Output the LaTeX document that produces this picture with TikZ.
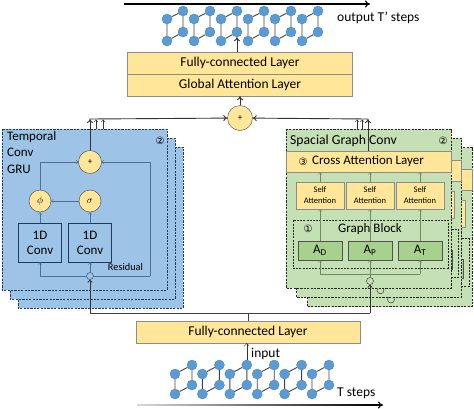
\documentclass[tikz,border=0pt]{standalone}
\usepackage{fontspec}
\setmainfont{Carlito}
\newfontfamily\circfont{DejaVu Sans}
\usetikzlibrary{positioning,arrows.meta}

\definecolor{goldfill}{HTML}{FFE699}
\definecolor{goldline}{HTML}{8C8C8C}
\definecolor{tcfill}{HTML}{9DC3E6}
\definecolor{tcline}{HTML}{203864}
\definecolor{tcwire}{HTML}{4E6F96}
\definecolor{sgfill}{HTML}{C5E0B4}
\definecolor{sgbox}{HTML}{A9D18E}
\definecolor{sgline}{HTML}{262626}
\definecolor{sgwire}{HTML}{6F8A5E}
\definecolor{gnode}{HTML}{5B9BD5}

\tikzset{
  yellowbar/.style={draw=goldline, fill=goldfill, minimum width=225pt, minimum height=22pt,
    inner sep=0pt, font=\fontsize{13.5}{16}\selectfont},
  panel/.style={dash pattern=on 2.2pt off 1.2pt, line width=1pt},
  opcircle/.style={circle, draw=black!75, fill=goldfill, inner sep=0pt},
  convbox/.style={draw=tcline, minimum width=43pt, minimum height=39pt, inner sep=0pt,
    align=center, font=\fontsize{13}{15}\selectfont},
  attbox/.style={draw=goldline, fill=goldfill, minimum width=48pt, minimum height=27pt,
    inner sep=0pt, align=center, font=\fontsize{8.5}{11}\selectfont},
  abox/.style={draw=sgline!80, fill=sgbox, minimum width=44pt, minimum height=19pt,
    inner sep=0pt, font=\fontsize{13}{15}\selectfont},
  joint/.style={circle, draw, minimum size=7pt, inner sep=0pt},
  gdot/.style={circle, fill=gnode, draw=gnode!85!black, minimum size=10pt, inner sep=0pt},
  gedge/.style={draw=black!75, line width=0.9pt},
  wire/.style={-{To[length=2.5pt,width=4pt]}, thin},
  bigwire/.style={-{To[length=4pt,width=6pt]}, line width=0.9pt, draw=black!80},
  circnum/.style={font=\circfont\fontsize{10}{12}\selectfont, inner sep=0pt},
  plain/.style={font=\fontsize{13.5}{16}\selectfont, inner sep=0pt}
}

\begin{document}
\begin{tikzpicture}[x=1pt, y=-1pt]
\useasboundingbox (0,0) rectangle (474,408);

% time axes
\coordinate (outstart) at (124,4);
\coordinate (outend) at (370,4);
\draw[-{To[length=5pt,width=7pt]}, line width=1.1pt] (outstart) -- (outend);
\fill[left color=black!15, right color=black] (137,404.4) rectangle (379,405.6);
\coordinate (instart) at (378,405);
\coordinate (inend) at (383,405);
\draw[-{To[length=5pt,width=7pt]}, line width=1.1pt] (instart) -- (inend);

% output and input graphs
\foreach \k in {1,...,6} {
  \pgfmathsetmacro\gx{167+27*(\k-1)}
  \node[gdot] (gout\k l1) at (\gx,19) {};
  \node[gdot] (gout\k l2) at (\gx,41) {};
  \node[gdot] (gout\k r1) at (\gx+16,11) {};
  \node[gdot] (gout\k r2) at (\gx+16,32) {};
  \draw[gedge] (gout\k l1) -- (gout\k r1) -- (gout\k r2) -- (gout\k l2) -- (gout\k l1);
  \pgfmathsetmacro\hx{175+27.4*(\k-1)}
  \node[gdot] (gin\k l1) at (\hx,374) {};
  \node[gdot] (gin\k l2) at (\hx,394) {};
  \node[gdot] (gin\k r1) at (\hx+17,365) {};
  \node[gdot] (gin\k r2) at (\hx+17,385) {};
  \draw[gedge] (gin\k l1) -- (gin\k r1) -- (gin\k r2) -- (gin\k l2) -- (gin\k l1);
}
\node[plain, anchor=west] (outlabel) at (337,18) {output T' steps};
\node[plain, anchor=west] (inlabel) at (337,393) {T steps};

% head layers
\node[yellowbar] (fctop) at (240,63) {Fully-connected Layer};
\node[yellowbar] (gatt) at (240,85) {Global Attention Layer};
\node[opcircle, minimum size=25pt, font=\small] (mplus) at (240,118) {+};
\draw[bigwire] (mplus) -- (gatt);
\draw[bigwire] (fctop.north -| gout3r2) -- (gout3r2);

% input layer
\node[yellowbar, minimum width=224pt] (fcbot) at (248,332) {Fully-connected Layer};
\draw[-{To[length=3pt,width=5pt]}, draw=black!80] (gin3r1) -- (gin3r1 |- fcbot.south);
\node[plain, anchor=west] (inputlabel) at (251,354) {input};

% temporal conv GRU (stacked)
\foreach \k in {2,1,0}
  \draw[panel, draw=tcline, fill=tcfill] (2+8*\k,129+9*\k) rectangle ++(165,161);
\node[anchor=north west, align=left, inner sep=0pt, font=\fontsize{13}{16.5}\selectfont]
  (tctitle) at (7,131) {Temporal\\Conv\\GRU};
\node[circnum] (tcnum) at (160,141) {②};
\node[opcircle, minimum size=23pt, font=\small] (tcplus) at (90,162) {+};
\node[opcircle, minimum size=22pt] (tcphi) at (40,201) {$\phi$};
\node[opcircle, minimum size=22pt] (tcsig) at (90,201) {$\sigma$};
\node[convbox] (conva) at (40,242.5) {1D\\Conv};
\node[convbox] (convb) at (90,242.5) {1D\\Conv};
\node[joint, draw=tcline, fill=tcfill] (tcjoin) at (90,276) {};
\node[inner sep=0pt, font=\fontsize{10.3}{12}\selectfont] (tcres) at (125.5,267) {Residual};
\coordinate (tcl) at (40,276);
\coordinate (tcr) at (150,276);
\begin{scope}[draw=tcwire]
  \draw (tcjoin) -- (tcl);
  \draw (tcjoin) -- (tcr);
  \draw[wire] (tcl) -- (conva);
  \draw[wire] (tcjoin) -- (convb);
  \draw[wire] (conva) -- (tcphi);
  \draw[wire] (convb) -- (tcsig);
  \draw[wire] (tcsig) -- (tcphi);
  \draw[wire] (tcphi) |- (tcplus);
  \draw[wire] (tcr) |- (tcplus);
\end{scope}

% spacial graph conv (stacked, texts only on the front copy)
\foreach \k in {2,1,0} {
  \ifnum\k=0
    \def\satxt{Self\\Attention}\def\adtxt{A\textsubscript{D}}%
    \def\aptxt{A\textsubscript{P}}\def\attxt{A\textsubscript{T}}%
  \else
    \def\satxt{}\def\adtxt{}\def\aptxt{}\def\attxt{}%
  \fi
  \begin{scope}[shift={(10.5*\k,9.25*\k)}]
    \draw[panel, draw=sgline, fill=sgfill] (286,129) rectangle (451,288);
    \node[draw=goldline, fill=goldfill, minimum width=165pt, minimum height=21pt,
      inner sep=0pt] (sgcross\k) at (368.5,161.5) {};
    \node[attbox] (sgsa\k a) at (320,195.5) {\satxt};
    \node[attbox] (sgsa\k b) at (370,195.5) {\satxt};
    \node[attbox] (sgsa\k c) at (420,195.5) {\satxt};
    \node[draw=sgline, dash pattern=on 2pt off 1.2pt, line width=0.8pt,
      minimum width=155pt, minimum height=48pt] (sgblock\k) at (370.5,244) {};
    \node[abox] (sgad\k) at (320,250.5) {\adtxt};
    \node[abox] (sgap\k) at (370,250.5) {\aptxt};
    \node[abox] (sgat\k) at (420,250.5) {\attxt};
    \node[joint, draw=sgline, fill=sgfill] (sgjoin\k) at (370,281) {};
    \coordinate (sgl\k) at (320,274);
    \coordinate (sgr\k) at (420,274);
    \begin{scope}[draw=sgwire]
      \draw (sgl\k) -- (sgr\k);
      \draw[wire] (sgl\k) -- (sgad\k);
      \draw[wire] (sgjoin\k) -- (sgap\k);
      \draw[wire] (sgr\k) -- (sgat\k);
      \draw[wire] (sgad\k) -- (sgsa\k a);
      \draw[wire] (sgap\k) -- (sgsa\k b);
      \draw[wire] (sgat\k) -- (sgsa\k c);
      \draw[wire] (sgsa\k a) -- (sgsa\k a |- sgcross\k.south);
      \draw[wire] (sgsa\k b) -- (sgsa\k b |- sgcross\k.south);
      \draw[wire] (sgsa\k c) -- (sgsa\k c |- sgcross\k.south);
    \end{scope}
  \end{scope}
}
\node[plain, anchor=west, font=\fontsize{13.7}{15}\selectfont] (sgtitle) at (290,141) {Spacial Graph Conv};
\node[circnum] (sgnum) at (443,141) {②};
\node[circnum] (sgcrossnum) at (303,161.5) {③};
\node[plain, anchor=west, font=\fontsize{13}{15}\selectfont] (sgcrosstext) at (312,161.5) {Cross Attention Layer};
\node[circnum] (sgblocknum) at (308,229) {①};
\node[plain, font=\fontsize{13}{15}\selectfont] (sgblocktext) at (370,229) {Graph Block};

% merging into the global attention
\coordinate (tctop) at (90,119);
\coordinate (sgtop) at (368,119);
\draw[bigwire] (tcplus) -- (tctop);
\draw[bigwire] (sgcross0.north -| sgtop) -- (sgtop);
\foreach \x [count=\i] in {96,103} {
  \coordinate (tcback\i) at (\x,129);
  \draw[wire, draw=black!80] (tcback\i) -- (\x,119.5);
}
\foreach \x [count=\i] in {357,362} {
  \coordinate (sgback\i) at (\x,129);
  \draw[wire, draw=black!80] (sgback\i) -- (\x,119.5);
}
\draw[bigwire] (tctop) -- (mplus);
\draw[bigwire] (sgtop) -- (mplus);

% feeding the two branches
\coordinate (tcin) at (90,313);
\coordinate (sgin) at (370,313);
\draw[draw=black!75, line width=0.8pt] (tcin) -- (sgin);
\draw[draw=black!75, line width=0.8pt] (fcbot.north) -- (fcbot.north |- tcin);
\draw[-{To[length=3pt,width=5pt]}, draw=black!80, line width=0.8pt] (tcin) -- (tcjoin);
\draw[-{To[length=3pt,width=5pt]}, draw=black!80, line width=0.8pt] (sgin) -- (sgjoin0);
\end{tikzpicture}
\end{document}
